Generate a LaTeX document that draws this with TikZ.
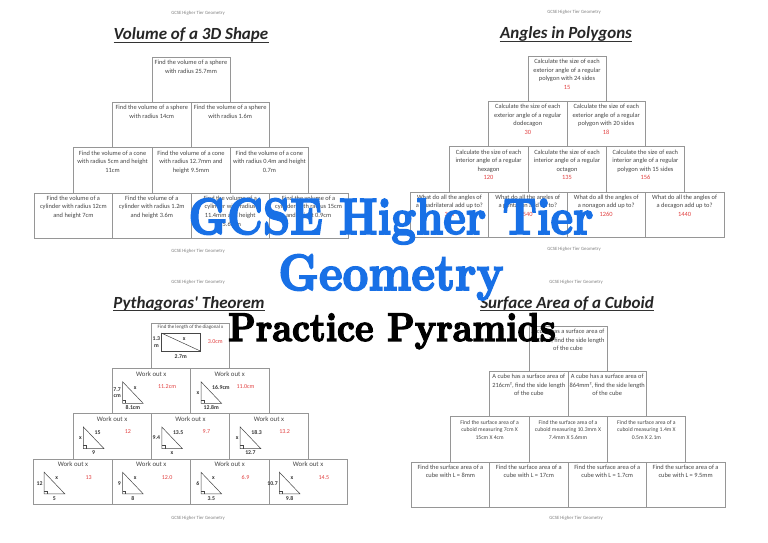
\documentclass[tikz,border=0pt]{standalone}
\usepackage{fontspec}
\newfontfamily\sheetfont{Carlito}
\newfontfamily\heavyfont{lmroman10-bold}[Extension=.otf, FakeBold=3.5]

\definecolor{boxgray}{RGB}{150,150,150}
\definecolor{sheettext}{RGB}{70,70,70}
\definecolor{ansred}{RGB}{226,64,64}
\definecolor{titleblue}{RGB}{24,112,230}

\tikzset{
  qbox/.style={draw=boxgray, line width=0.5pt, inner sep=1.5pt, outer sep=0pt,
    anchor=north west, text=sheettext, font=\sheetfont\fontsize{6.4}{8.6}\selectfont},
  sheethead/.style={text=gray, font=\sheetfont\fontsize{4.8}{5}\selectfont},
  sheettitle/.style={anchor=base, inner sep=0pt, text=black!85,
    font=\sheetfont\bfseries\itshape\fontsize{17}{19}\selectfont},
  workhead/.style={text=sheettext, font=\sheetfont\fontsize{6.8}{7}\selectfont},
  answer/.style={text=ansred, font=\sheetfont\fontsize{6}{7}\selectfont},
  trilabel/.style={inner sep=0.5pt, align=center, text=black!80,
    font=\sheetfont\bfseries\fontsize{5.8}{6.2}\selectfont},
  figline/.style={draw=sheettext, line width=0.5pt},
  bigtitle/.style={anchor=base, inner sep=0pt, font=\heavyfont\fontsize{51}{55}\selectfont},
}
\newcommand{\qtext}[1]{\parbox[t][42.25pt][t]{75.4pt}{\centering\strut#1}}
\newcommand{\redans}[1]{\\\textcolor{ansred}{#1}}
\newcommand{\smallq}{\fontsize{5.7}{7.7}\selectfont}

\begin{document}
\begin{tikzpicture}[x=1pt, y=-1pt]
  % Page
  \fill[white] (0,0) rectangle (768,543);
  \useasboundingbox (0,0) rectangle (768,543);

  % Headers and footers of the four sheets
  \foreach \n/\x/\y in {vh/198/13, vf/198/251, ah/574/12, af/574/249,
                        ph/198/282, pf/198/518, sh/576/282, sf/576/518}
    \node[sheethead] (\n) at (\x,\y) {GCSE Higher Tier Geometry};

  % Sheet titles
  \node[sheettitle] (vol-title) at (191,40) {Volume of a 3D Shape};
  \node[sheettitle] (ang-title) at (566,39) {Angles in Polygons};
  \node[sheettitle] (pyt-title) at (189,308) {Pythagoras' Theorem};
  \node[sheettitle] (sur-title) at (567,308) {Surface Area of a Cuboid};
  \foreach \t in {vol,ang,pyt,sur}
    \draw[line width=0.8pt, black!80] ([yshift=-2pt]\t-title.base west) -- ([yshift=-2pt]\t-title.base east);

  % Volume of a 3D Shape
  \foreach \i/\j/\txt in {
      0/0/{Find the volume of a sphere\\with radius 25.7mm},
      1/0/{Find the volume of a sphere\\with radius 14cm},
      1/1/{Find the volume of a sphere\\with radius 1.6m},
      2/0/{Find the volume of a cone\\with radius 5cm and height\\11cm},
      2/1/{Find the volume of a cone\\with radius 12.7mm and\\height 9.5mm},
      2/2/{Find the volume of a cone\\with radius 0.4m and height\\0.7m},
      3/0/{Find the volume of a\\cylinder with radius 12cm\\and height 7cm},
      3/1/{Find the volume of a\\cylinder with radius 1.2m\\and height 3.6m},
      3/2/{Find the volume of a\\cylinder with radius\\11.4mm and height\\15.6mm},
      3/3/{Find the volume of a\\cylinder with radius 15cm\\and height 0.9cm}}
    \node[qbox] (vol-\i-\j) at ({191-(\i+1)*39.2+\j*78.4}, {57+\i*45.25}) {\qtext{\txt}};

  % Angles in Polygons
  \foreach \i/\j/\txt in {
      0/0/{Calculate the size of each\\exterior angle of a regular\\polygon with 24 sides\redans{15}},
      1/0/{Calculate the size of each\\exterior angle of a regular\\dodecagon\redans{30}},
      1/1/{Calculate the size of each\\exterior angle of a regular\\polygon with 20 sides\redans{18}},
      2/0/{Calculate the size of each\\interior angle of a regular\\hexagon\redans{120}},
      2/1/{Calculate the size of each\\interior angle of a regular\\octagon\redans{135}},
      2/2/{Calculate the size of each\\interior angle of a regular\\polygon with 15 sides\redans{156}},
      3/0/{What do all the angles of\\a quadrilateral add up to?\redans{360}},
      3/1/{What do all the angles of\\a pentagon add up to?\redans{540}},
      3/2/{What do all the angles of\\a nonagon add up to?\redans{1260}},
      3/3/{What do all the angles of\\a decagon add up to?\redans{1440}}}
    \node[qbox] (ang-\i-\j) at ({567-(\i+1)*39.2+\j*78.4}, {56+\i*45.25}) {\qtext{\txt}};

  % Surface Area of a Cuboid
  \foreach \i/\j/\txt in {
      0/0/{A cube has a surface area of\\150cm², find the side length\\of the cube},
      1/0/{A cube has a surface area of\\216cm², find the side length\\of the cube},
      1/1/{A cube has a surface area of\\864mm², find the side length\\of the cube},
      2/0/{\smallq Find the surface area of a\\cuboid measuring 7cm X\\15cm X 4cm},
      2/1/{\smallq Find the surface area of a\\cuboid measuring 10.3mm X\\7.4mm X 5.6mm},
      2/2/{\smallq Find the surface area of a\\cuboid measuring 1.4m X\\0.5m X 2.1m},
      3/0/{Find the surface area of a\\cube with L = 8mm},
      3/1/{Find the surface area of a\\cube with L = 17cm},
      3/2/{Find the surface area of a\\cube with L = 1.7cm},
      3/3/{Find the surface area of a\\cube with L = 9.5mm}}
    \node[qbox] (sur-\i-\j) at ({568-(\i+1)*39.2+\j*78.4}, {326+\i*45.25}) {\qtext{\txt}};

  % Pythagoras' Theorem: top box with the rectangle
  \node[qbox] (pyt-0-0) at ({190.5-39.2}, 323) {\qtext{}};
  \begin{scope}[shift={(pyt-0-0.north west)}]
    \node[workhead, font=\sheetfont\fontsize{5}{5}\selectfont] (pyt-0-0-head) at (39.2,4.5) {Find the length of the diagonal x};
    \draw[figline] (10,10) rectangle (49,28);
    \draw[figline] (10,10) -- (49,28);
    \node[trilabel, anchor=east] (pyt-0-0-a) at (9.5,19) {1.3\\m};
    \node[trilabel] (pyt-0-0-b) at (33,16.5) {x};
    \node[trilabel] (pyt-0-0-c) at (29.5,34) {2.7m};
    \node[answer] (pyt-0-0-ans) at (64,19) {3.0cm};
  \end{scope}

  % Pythagoras' Theorem: right-angled triangles
  \foreach \i/\j/\sa/\sb/\sc/\ans in {
      1/0/{7.7\\cm}/x/8.1cm/11.2cm, 1/1/x/16.9cm/12.8m/11.0cm,
      2/0/x/15/9/12, 2/1/9.4/13.5/x/9.7, 2/2/x/18.3/12.7/13.2,
      3/0/12/x/5/13, 3/1/9/x/8/12.0, 3/2/6/x/3.5/6.9, 3/3/10.7/x/9.8/14.5}
  {
    \node[qbox] (pyt-\i-\j) at ({190.5-(\i+1)*39.2+\j*78.4}, {323+\i*45.25}) {\qtext{}};
    \begin{scope}[shift={(pyt-\i-\j.north west)}]
      \node[workhead] (pyt-\i-\j-head) at (39.2,5.5) {Work out x};
      \draw[figline] (10.5,13.5) -- (10.5,35) -- (31,35) -- cycle;
      \draw[figline, line width=0.4pt] (10.5,32) -- (13.5,32) -- (13.5,35);
      \node[trilabel, anchor=east] (pyt-\i-\j-a) at (9.5,24.5) {\sa};
      \node[trilabel, anchor=west] (pyt-\i-\j-b) at (21,19.5) {\sb};
      \node[trilabel] (pyt-\i-\j-c) at (20.75,39.5) {\sc};
      \node[answer] (pyt-\i-\j-ans) at (55,18.5) {\ans};
    \end{scope}
  }

  % Overlay title
  \node[bigtitle, text=titleblue] (main-top) at (391,234) {\scalebox{0.84}[1]{GCSE Higher Tier}};
  \node[bigtitle, text=titleblue] (main-mid) at (391,290) {\scalebox{0.88}[1]{Geometry}};
  \node[bigtitle, font=\heavyfont\fontsize{40}{44}\selectfont] (main-low) at (392,341) {\scalebox{0.88}[1]{Practice Pyramids}};
\end{tikzpicture}
\end{document}
